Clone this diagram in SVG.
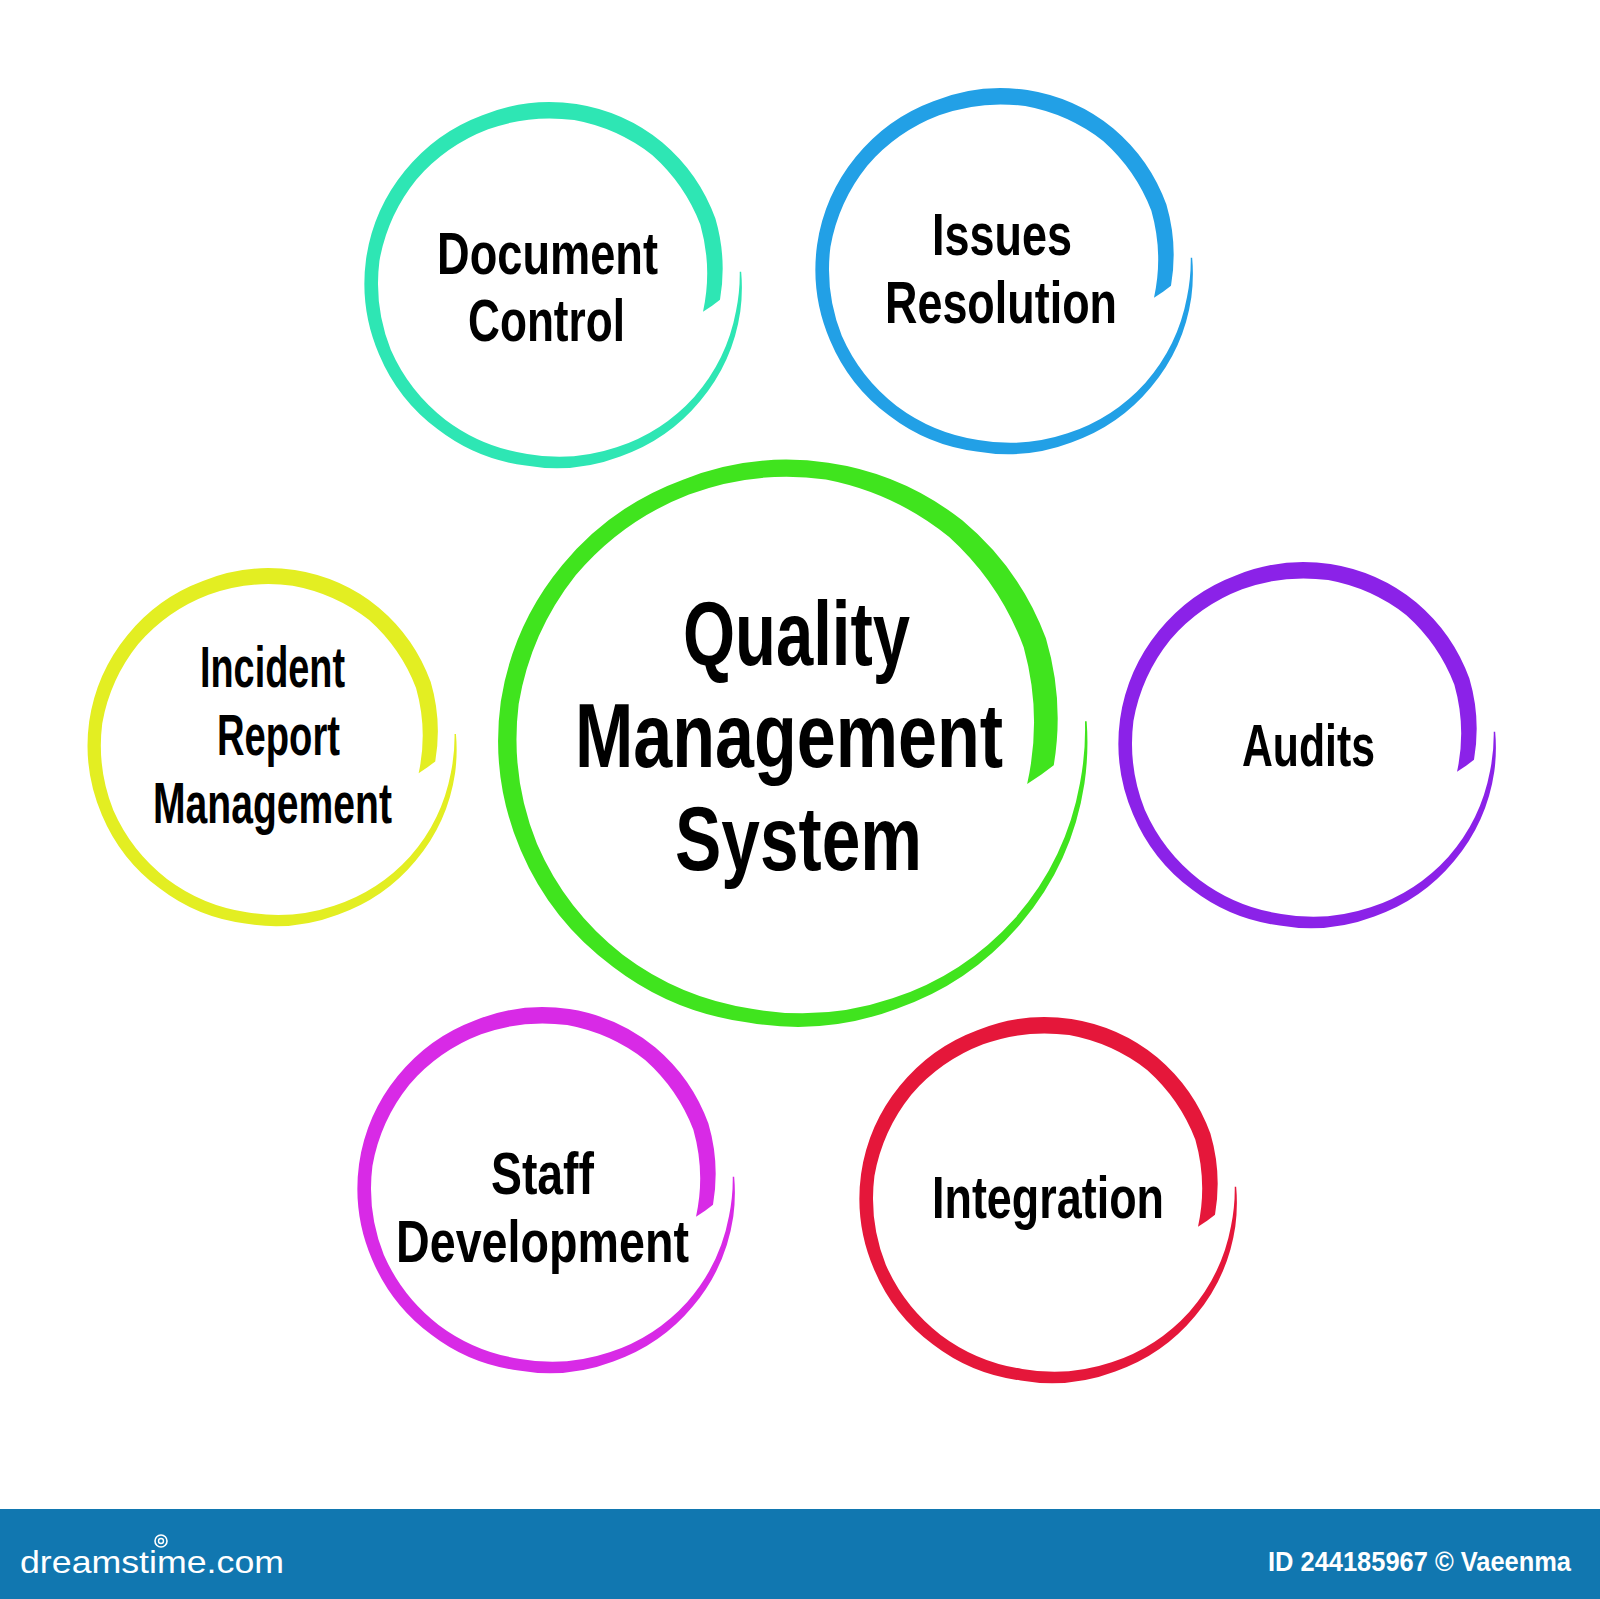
<svg xmlns="http://www.w3.org/2000/svg" xmlns:xlink="http://www.w3.org/1999/xlink" width="1600" height="1599" viewBox="0 0 1600 1599">
<style>
.lbl{font-family:"Liberation Sans",Arial,Helvetica,sans-serif;font-weight:bold;fill:#000;text-anchor:middle}
.small{font-size:60px}
.big{font-size:90px}
.inc{font-size:58px}
.band{font-family:"Liberation Sans",Arial,sans-serif;fill:#fff}
</style>
<defs>
<path id="brushS" d="M93.89,8.21 A100,100 0 0 0 91.33,-36.90 A100,100 0 0 0 61.88,-79.19 A100,100 0 0 0 14.13,-100.52 A100,100 0 0 0 -38.12,-94.34 A100,100 0 0 0 -81.16,-63.42 A100,100 0 0 0 -102.74,-14.44 A100,100 0 0 0 -95.50,38.58 A100,100 0 0 0 -62.74,80.30 A100,100 0 0 0 -14.09,100.27 A100,100 0 0 0 38.49,95.27 A100,100 0 0 0 82.74,64.65 A100,100 0 0 0 105.17,14.78 A100,100 0 0 0 105.65,-7.39 L104.85,-7.34 A100,100 0 0 1 102.79,14.45 A100,100 0 0 1 79.59,62.19 A100,100 0 0 1 36.43,90.17 A100,100 0 0 1 -13.19,93.83 A100,100 0 0 1 -58.55,74.94 A100,100 0 0 1 -89.01,35.96 A100,100 0 0 1 -95.32,-13.40 A100,100 0 0 1 -74.86,-58.49 A100,100 0 0 1 -34.93,-86.46 A100,100 0 0 1 12.88,-91.60 A100,100 0 0 1 56.34,-72.10 A100,100 0 0 1 82.98,-33.53 A100,100 0 0 1 84.45,14.89 L89.5,11.5 Z"/>
<path id="brushL" d="M93.89,8.21 A100,100 0 0 0 91.10,-36.80 A100,100 0 0 0 61.42,-78.60 A100,100 0 0 0 13.92,-99.03 A100,100 0 0 0 -37.59,-93.04 A100,100 0 0 0 -80.38,-62.80 A100,100 0 0 0 -102.20,-14.37 A100,100 0 0 0 -95.13,38.43 A100,100 0 0 0 -62.34,79.79 A100,100 0 0 0 -13.99,99.53 A100,100 0 0 0 38.21,94.57 A100,100 0 0 0 82.27,64.28 A100,100 0 0 0 104.77,14.73 A100,100 0 0 0 105.55,-7.38 L104.95,-7.34 A100,100 0 0 1 103.19,14.50 A100,100 0 0 1 80.06,62.55 A100,100 0 0 1 36.71,90.87 A100,100 0 0 1 -13.29,94.57 A100,100 0 0 1 -58.95,75.45 A100,100 0 0 1 -89.38,36.11 A100,100 0 0 1 -95.86,-13.47 A100,100 0 0 1 -75.65,-59.11 A100,100 0 0 1 -35.46,-87.76 A100,100 0 0 1 13.08,-93.09 A100,100 0 0 1 56.80,-72.69 A100,100 0 0 1 83.22,-33.62 A100,100 0 0 1 84.45,14.89 L89.5,11.5 Z"/>
</defs>
<rect width="1600" height="1599" fill="#ffffff"/>

<g id="node-document-control">
<use xlink:href="#brushS" href="#brushS" transform="translate(551,285) scale(1.8)" fill="#2ee6b4"/>
<text class="lbl small" x="547.5" y="274" textLength="221" lengthAdjust="spacingAndGlyphs">Document</text>
<text class="lbl small" x="546.5" y="341" textLength="157" lengthAdjust="spacingAndGlyphs">Control</text>
</g>

<g id="node-issues-resolution">
<use xlink:href="#brushS" href="#brushS" transform="translate(1002,271) scale(1.8)" fill="#22a0e6"/>
<text class="lbl small" x="1002" y="255" textLength="140" lengthAdjust="spacingAndGlyphs">Issues</text>
<text class="lbl small" x="1001" y="323" textLength="232" lengthAdjust="spacingAndGlyphs">Resolution</text>
</g>

<g id="node-quality-management-system">
<use xlink:href="#brushL" href="#brushL" transform="translate(789,742) scale(2.82)" fill="#40e41e"/>
<text class="lbl big" x="796.5" y="665" textLength="227" lengthAdjust="spacingAndGlyphs">Quality</text>
<text class="lbl big" x="789" y="767" textLength="428" lengthAdjust="spacingAndGlyphs">Management</text>
<text class="lbl big" x="798.5" y="870" textLength="247" lengthAdjust="spacingAndGlyphs">System</text>
</g>

<g id="node-incident-report-management">
<use xlink:href="#brushS" href="#brushS" transform="translate(270,747) scale(1.76)" fill="#e3ee22"/>
<text class="lbl inc" x="272.5" y="687" textLength="145" lengthAdjust="spacingAndGlyphs">Incident</text>
<text class="lbl inc" x="278.5" y="755" textLength="123" lengthAdjust="spacingAndGlyphs">Report</text>
<text class="lbl inc" x="272.5" y="823" textLength="239" lengthAdjust="spacingAndGlyphs">Management</text>
</g>

<g id="node-audits">
<use xlink:href="#brushS" href="#brushS" transform="translate(1305,745) scale(1.8)" fill="#8b22e8"/>
<text class="lbl small" x="1308.5" y="766" textLength="133" lengthAdjust="spacingAndGlyphs">Audits</text>
</g>

<g id="node-staff-development">
<use xlink:href="#brushS" href="#brushS" transform="translate(544,1190) scale(1.8)" fill="#d82ae6"/>
<text class="lbl small" x="542.5" y="1194" textLength="103" lengthAdjust="spacingAndGlyphs">Staff</text>
<text class="lbl small" x="542.5" y="1262" textLength="293" lengthAdjust="spacingAndGlyphs">Development</text>
</g>

<g id="node-integration">
<use xlink:href="#brushS" href="#brushS" transform="translate(1046,1200) scale(1.8)" fill="#e5173a"/>
<text class="lbl small" x="1048" y="1218" textLength="232" lengthAdjust="spacingAndGlyphs">Integration</text>
</g>

<g id="connectors"></g>

<g id="footer-band">
<rect x="0" y="1509" width="1600" height="90" fill="#1177b0"/>
<text class="band" x="20" y="1573" font-size="32" textLength="264" lengthAdjust="spacingAndGlyphs">dreamstime.com</text>
<circle cx="161" cy="1541" r="6" fill="none" stroke="#fff" stroke-width="1.6"/>
<circle cx="161" cy="1541" r="2.5" fill="none" stroke="#fff" stroke-width="1.4"/>
<text class="band" x="1268" y="1571" font-size="27" font-weight="bold" textLength="303" lengthAdjust="spacingAndGlyphs">ID 244185967 © Vaeenma</text>
</g>
</svg>
